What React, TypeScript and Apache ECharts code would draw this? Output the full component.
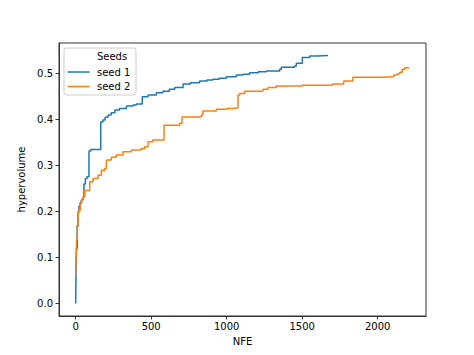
import React, { useEffect, useRef } from "react";
import * as echarts from "echarts";

const seed1NFE = [0, 2, 5, 10, 16, 22, 30, 37, 48, 55, 64, 75, 88, 100, 166, 180, 195, 214, 235, 260, 290, 336, 380, 402, 441, 479, 534, 578, 620, 656, 711, 760, 821, 870, 909, 950, 998, 1064, 1110, 1152, 1210, 1263, 1351, 1362, 1450, 1461, 1501, 1550, 1600, 1671];
const seed1HV = [0.0, 0.06, 0.12, 0.17, 0.2, 0.212, 0.22, 0.225, 0.232, 0.26, 0.272, 0.276, 0.332, 0.335, 0.395, 0.399, 0.405, 0.41, 0.415, 0.421, 0.4245, 0.4296, 0.432, 0.434, 0.45, 0.4535, 0.4585, 0.462, 0.466, 0.47, 0.4775, 0.48, 0.484, 0.486, 0.4877, 0.49, 0.4934, 0.497, 0.499, 0.502, 0.504, 0.5058, 0.5095, 0.514, 0.5167, 0.5225, 0.535, 0.5385, 0.5395, 0.54];

const seed2NFE = [0, 3, 6, 11, 16, 20, 31, 40, 48, 60, 93, 115, 148, 170, 192, 203, 236, 269, 313, 369, 435, 457, 479, 510, 585, 689, 704, 832, 843, 931, 998, 1040, 1075, 1086, 1119, 1240, 1273, 1329, 1500, 1700, 1775, 1836, 2020, 2105, 2130, 2146, 2163, 2179, 2210];
const seed2HV = [0.06, 0.1, 0.14, 0.167, 0.19, 0.203, 0.218, 0.225, 0.232, 0.246, 0.265, 0.272, 0.279, 0.29, 0.294, 0.312, 0.318, 0.323, 0.33, 0.334, 0.3375, 0.341, 0.352, 0.3555, 0.388, 0.392, 0.406, 0.41, 0.419, 0.4225, 0.4245, 0.426, 0.4535, 0.457, 0.462, 0.466, 0.47, 0.473, 0.475, 0.4775, 0.484, 0.492, 0.4934, 0.497, 0.5, 0.503, 0.5095, 0.513, 0.513];

const xTicks = [0, 500, 1000, 1500, 2000];
const yTicks = [0.0, 0.1, 0.2, 0.3, 0.4, 0.5];
const seriesNames = ["seed 1", "seed 2"];
const legendTitle = "Seeds";

const FONT = "DejaVu Sans";

export default function App() {
  const ref = useRef<HTMLDivElement>(null);
  useEffect(() => {
    if (!ref.current) return;
    const chart = echarts.init(ref.current, null, { renderer: "svg" });
    const colors = ["#1f77b4", "#ff7f0e"];
    const toPairs = (xs: number[], ys: number[]) => xs.map((x, i) => [x, ys[i]]);
    const axisColor = "#333";
    chart.setOption({
      animation: false,
      backgroundColor: "#fff",
      grid: {
        left: 59,
        top: 43,
        right: 48,
        bottom: 39,
        show: true,
        borderColor: axisColor,
        borderWidth: 1,
        backgroundColor: "transparent",
      },
      xAxis: {
        type: "value",
        min: -110.5,
        max: 2320,
        name: "NFE",
        nameLocation: "middle",
        nameGap: 20,
        nameTextStyle: { fontFamily: FONT, fontSize: 10, color: "#000" },
        axisLine: { show: true, onZero: false, lineStyle: { color: axisColor, width: 1 } },
        axisTick: { show: true, length: 3.5, inside: false, customValues: xTicks, lineStyle: { color: axisColor } },
        axisLabel: {
          customValues: xTicks,
          fontFamily: FONT,
          fontSize: 10,
          color: "#000",
          margin: 5,
          formatter: (v: number) => String(Math.round(v)),
        },
        splitLine: { show: false },
      },
      yAxis: {
        type: "value",
        min: -0.027,
        max: 0.5667,
        name: "hypervolume",
        nameLocation: "middle",
        nameGap: 28,
        nameTextStyle: { fontFamily: FONT, fontSize: 10, color: "#000" },
        axisLine: { show: true, onZero: false, lineStyle: { color: axisColor, width: 1 } },
        axisTick: { show: true, length: 3.5, inside: false, customValues: yTicks, lineStyle: { color: axisColor } },
        axisLabel: {
          customValues: yTicks,
          fontFamily: FONT,
          fontSize: 10,
          color: "#000",
          margin: 6,
          formatter: (v: number) => v.toFixed(1),
        },
        splitLine: { show: false },
      },
      series: [
        {
          name: seriesNames[0],
          type: "line",
          step: "end",
          symbol: "none",
          data: toPairs(seed1NFE, seed1HV),
          lineStyle: { color: colors[0], width: 1.5 },
          itemStyle: { color: colors[0] },
        },
        {
          name: seriesNames[1],
          type: "line",
          step: "end",
          symbol: "none",
          data: toPairs(seed2NFE, seed2HV),
          lineStyle: { color: colors[1], width: 1.5 },
          itemStyle: { color: colors[1] },
        },
      ],
      graphic: [
        {
          type: "rect",
          shape: { x: 64, y: 48, width: 72, height: 47, r: 2.5 },
          style: { fill: "rgba(255,255,255,0.8)", stroke: "#cccccc", lineWidth: 1 },
          z: 10,
        },
        {
          type: "text",
          x: 112,
          y: 56,
          style: { text: legendTitle, fontFamily: FONT, fontSize: 10, fill: "#000", align: "center", verticalAlign: "middle" },
          z: 11,
        },
        {
          type: "line",
          shape: { x1: 67.5, y1: 72, x2: 89.5, y2: 72 },
          style: { stroke: colors[0], lineWidth: 1.5 },
          z: 11,
        },
        {
          type: "text",
          x: 97,
          y: 72,
          style: { text: seriesNames[0], fontFamily: FONT, fontSize: 10, fill: "#000", align: "left", verticalAlign: "middle" },
          z: 11,
        },
        {
          type: "line",
          shape: { x1: 67.5, y1: 86.5, x2: 89.5, y2: 86.5 },
          style: { stroke: colors[1], lineWidth: 1.5 },
          z: 11,
        },
        {
          type: "text",
          x: 97,
          y: 86.5,
          style: { text: seriesNames[1], fontFamily: FONT, fontSize: 10, fill: "#000", align: "left", verticalAlign: "middle" },
          z: 11,
        },
      ],
    });
    return () => chart.dispose();
  }, []);
  return <div ref={ref} style={{ width: 474, height: 355, position: "absolute", left: 0, top: 0 }} />;
}
